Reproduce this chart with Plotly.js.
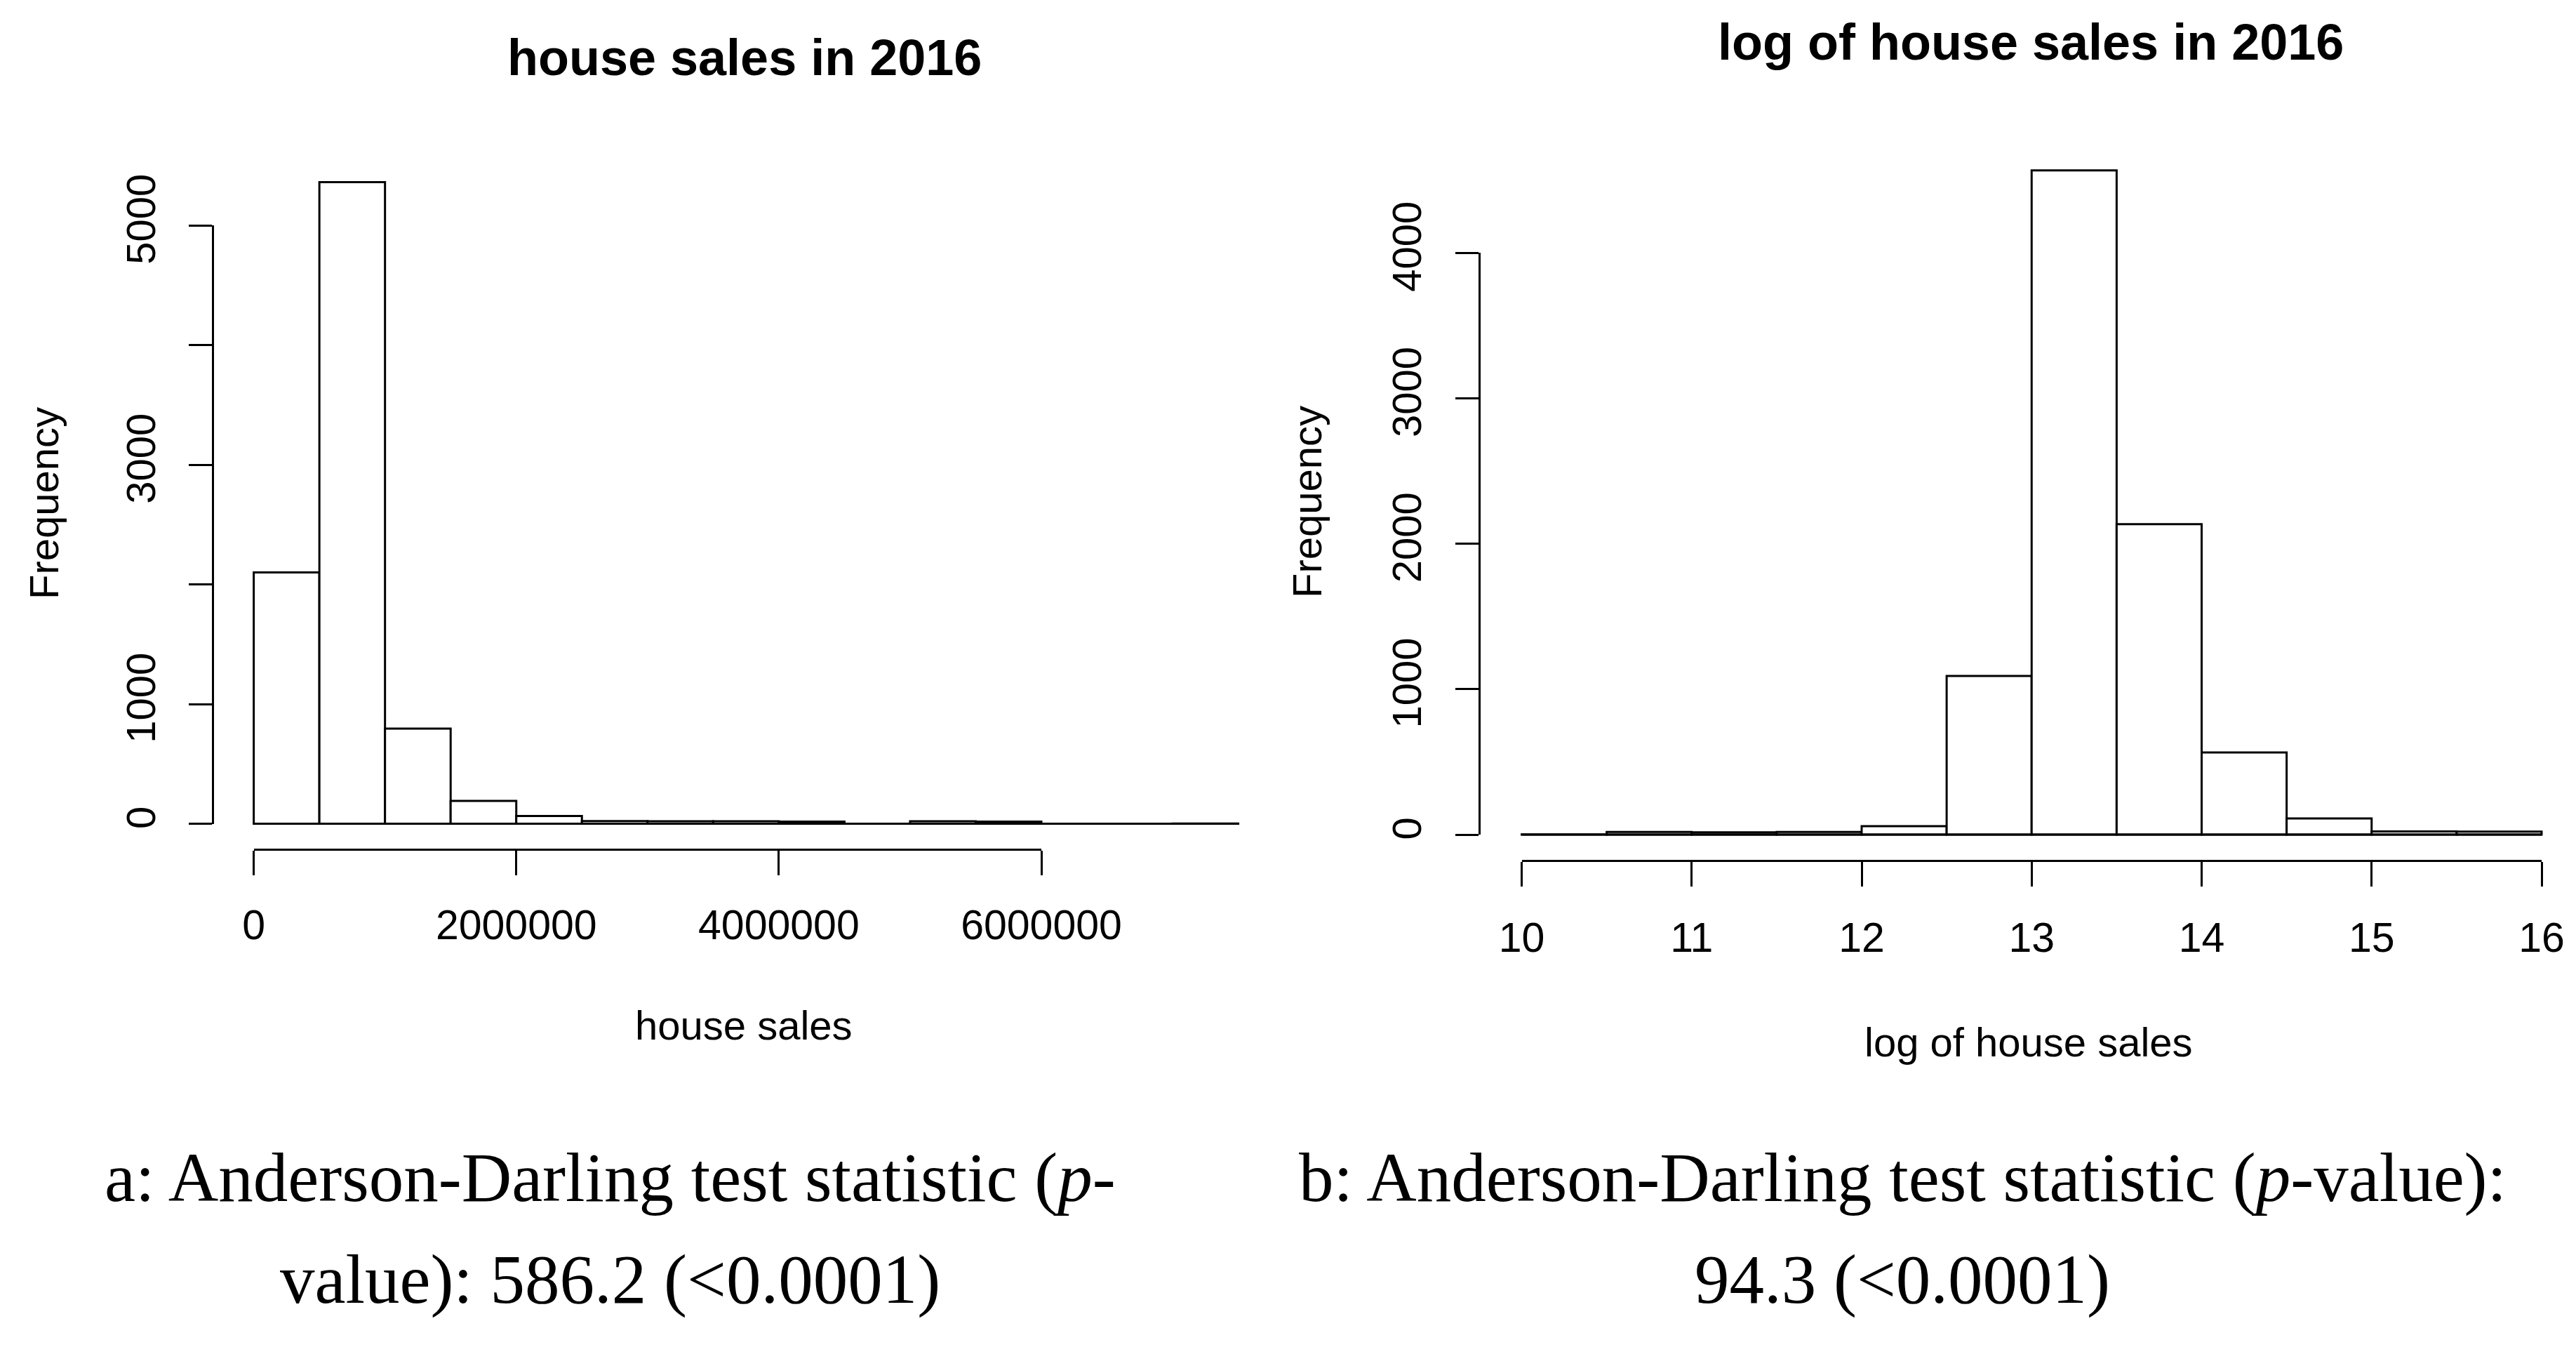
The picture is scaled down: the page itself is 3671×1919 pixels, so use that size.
<!DOCTYPE html>
<html>
<head>
<meta charset="utf-8">
<script src="https://cdn.plot.ly/plotly-3.0.1.min.js"></script>
<style>html,body{margin:0;padding:0;background:#fff;}#plot{width:3671px;height:1919px;}</style>
</head>
<body>
<div id="plot"></div>
<script>
// ---------- data ----------
const salesBinStart = 0;
const salesBinWidth = 500000;
const salesCounts = [2100, 5360, 795, 190, 65, 22, 20, 20, 18, 0, 20, 18, 0, 0, 1];

const logBinStart = 10;
const logBinWidth = 0.5;
const logCounts = [1, 18, 16, 18, 58, 1090, 4566, 2134, 564, 111, 22, 20];

const salesTickVals = [0, 2000000, 4000000, 6000000];
const salesTickText = ['0', '2000000', '4000000', '6000000'];
const freqTickValsA = [0, 1000, 2000, 3000, 4000, 5000];
const freqTickTextA = ['0', '1000', '', '3000', '', '5000'];
const logTickVals = [10, 11, 12, 13, 14, 15, 16];
const logTickText = ['10', '11', '12', '13', '14', '15', '16'];
const freqTickValsB = [0, 1000, 2000, 3000, 4000];
const freqTickTextB = ['0', '1000', '2000', '3000', '4000'];

const titleA = 'house sales in 2016';
const titleB = 'log of house sales in 2016';
const xTitleA = 'house sales';
const xTitleB = 'log of house sales';
const yTitle = 'Frequency';
const captionA = ['a: Anderson-Darling test statistic (<i>p</i>-', 'value): 586.2 (&lt;0.0001)'];
const captionB = ['b: Anderson-Darling test statistic (<i>p</i>-value):', '94.3 (&lt;0.0001)'];

// ---------- layout helpers ----------
const W = 3671, H = 1919;
const fx = p => p / W;
const fy = p => 1 - p / H;
// pixel mapping: value v0 at pixel p0, v1 at p1
function lin(v0, p0, v1, p1) { return v => p0 + (v - v0) * (p1 - p0) / (v1 - v0); }
function xDomain(range, m) { return [fx(m(range[0])), fx(m(range[1]))]; }
function yDomain(range, m) { return [fy(m(range[0])), fy(m(range[1]))]; }

const mxA = lin(0, 361.6, 6000000, 1484);
const myA = lin(0, 1173.5, 5000, 321);
const mxB = lin(10, 2168.5, 16, 3622);
const myB = lin(0, 1189, 4000, 360);

const xRangeA = [-100000, 7600000], yRangeA = [-60, 5500];
const xRangeB = [9.9, 16.1], yRangeB = [-50, 4800];

const centers = (start, w, counts) => counts.map((c, i) => start + (i + 0.5) * w);

const barStyle = { color: '#ffffff', line: { color: '#000000', width: 3 } };

const traces = [
  { type: 'bar', x: centers(salesBinStart, salesBinWidth, salesCounts), y: salesCounts,
    width: salesBinWidth, marker: barStyle, xaxis: 'x', yaxis: 'y', hoverinfo: 'skip', showlegend: false },
  { type: 'scatter', mode: 'lines', x: [salesBinStart, salesBinStart + salesCounts.length * salesBinWidth], y: [0, 0],
    line: { color: '#000000', width: 3 }, xaxis: 'x', yaxis: 'y', hoverinfo: 'skip', showlegend: false },
  { type: 'bar', x: centers(logBinStart, logBinWidth, logCounts), y: logCounts,
    width: logBinWidth, marker: barStyle, xaxis: 'x2', yaxis: 'y2', hoverinfo: 'skip', showlegend: false },
  { type: 'scatter', mode: 'lines', x: [logBinStart, logBinStart + logCounts.length * logBinWidth], y: [0, 0],
    line: { color: '#000000', width: 3 }, xaxis: 'x2', yaxis: 'y2', hoverinfo: 'skip', showlegend: false },
  // carriers for the detached R-style axes
  { type: 'scatter', mode: 'markers', x: [salesTickVals[0]], y: [freqTickValsA[0]], marker: { opacity: 0 },
    xaxis: 'x3', yaxis: 'y3', hoverinfo: 'skip', showlegend: false },
  { type: 'scatter', mode: 'markers', x: [logTickVals[0]], y: [freqTickValsB[0]], marker: { opacity: 0 },
    xaxis: 'x4', yaxis: 'y4', hoverinfo: 'skip', showlegend: false }
];

const hidden = { visible: false, showgrid: false, zeroline: false, fixedrange: true };
const tickFont = { family: 'Liberation Sans, Arial, sans-serif', size: 58, color: '#000000' };
const dispAxis = {
  showline: true, linewidth: 3, linecolor: '#000000', ticks: 'outside', tickwidth: 3, tickcolor: '#000000',
  showgrid: false, zeroline: false, tickmode: 'array', tickfont: tickFont, fixedrange: true, anchor: 'free'
};

const sansT = { family: 'Liberation Sans, Arial, sans-serif', size: 72, color: '#000000', weight: 'bold' };
const sansA = { family: 'Liberation Sans, Arial, sans-serif', size: 58, color: '#000000' };
const serif = { family: 'Liberation Serif, Times New Roman, serif', size: 99, color: '#000000' };

function ann(text, x, y, font, extra) {
  return Object.assign({ text: text, x: fx(x), y: fy(y), xref: 'paper', yref: 'paper',
    xanchor: 'center', yanchor: 'middle', showarrow: false, font: font }, extra || {});
}

const layout = {
  width: W, height: H, margin: { l: 0, r: 0, t: 0, b: 0 },
  paper_bgcolor: '#ffffff', plot_bgcolor: 'rgba(0,0,0,0)', showlegend: false, barmode: 'overlay',
  xaxis: Object.assign({}, hidden, { domain: xDomain(xRangeA, mxA), range: xRangeA, anchor: 'y' }),
  yaxis: Object.assign({}, hidden, { domain: yDomain(yRangeA, myA), range: yRangeA, anchor: 'x' }),
  xaxis2: Object.assign({}, hidden, { domain: xDomain(xRangeB, mxB), range: xRangeB, anchor: 'y2' }),
  yaxis2: Object.assign({}, hidden, { domain: yDomain(yRangeB, myB), range: yRangeB, anchor: 'x2' }),
  xaxis3: Object.assign({}, dispAxis, { domain: xDomain([0, 6000000], mxA), range: [0, 6000000],
    position: fy(1209.5), ticklen: 35, tickvals: salesTickVals, ticktext: salesTickText,
    tickfont: Object.assign({}, tickFont, { size: 59 }), ticklabelstandoff: 21 }),
  yaxis3: Object.assign({}, dispAxis, { domain: yDomain([0, 5000], myA), range: [0, 5000], side: 'left',
    position: fx(303), ticklen: 33, tickvals: freqTickValsA, ticktext: freqTickTextA, tickangle: -90,
    ticklabelstandoff: 25 }),
  xaxis4: Object.assign({}, dispAxis, { domain: xDomain([10, 16], mxB), range: [10, 16],
    position: fy(1226), ticklen: 35, tickvals: logTickVals, ticktext: logTickText,
    tickfont: Object.assign({}, tickFont, { size: 59 }), ticklabelstandoff: 22 }),
  yaxis4: Object.assign({}, dispAxis, { domain: yDomain([0, 4000], myB), range: [0, 4000], side: 'left',
    position: fx(2107.7), ticklen: 33, tickvals: freqTickValsB, ticktext: freqTickTextB, tickangle: -90,
    ticklabelstandoff: 26 }),
  annotations: [
    ann(titleA, 1061, 82, sansT),
    ann(titleB, 2894, 60, sansT),
    ann(xTitleA, 1060, 1460, sansA),
    ann(xTitleB, 2891, 1484, sansA),
    ann(yTitle, 62, 717, sansA, { textangle: -90 }),
    ann(yTitle, 1862, 715, sansA, { textangle: -90 }),
    ann(captionA[0], 869, 1678, serif),
    ann(captionA[1], 869, 1823, serif),
    ann(captionB[0], 2711, 1678, serif),
    ann(captionB[1], 2711, 1823, serif)
  ]
};

Plotly.newPlot('plot', traces, layout, { staticPlot: true, displayModeBar: false });
</script>
</body>
</html>
